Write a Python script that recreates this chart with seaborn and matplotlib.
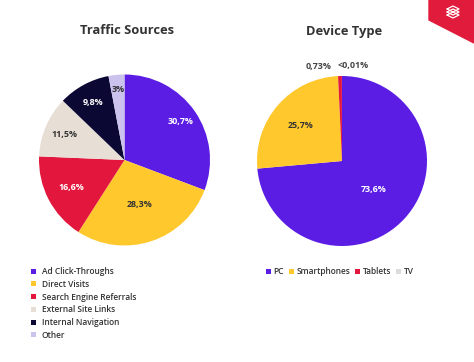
import numpy as np
import matplotlib
matplotlib.use("Agg")
import matplotlib.pyplot as plt
from matplotlib.patches import Polygon
import seaborn as sns

sns.set_theme(style="white")
plt.rcParams['font.family'] = ['Open Sans', 'DejaVu Sans']

# data
traffic_labels = ['Ad Click-Throughs', 'Direct Visits', 'Search Engine Referrals',
                  'External Site Links', 'Internal Navigation', 'Other']
traffic_values = [30.7, 28.3, 16.6, 11.5, 9.8, 3.0]
traffic_text = ['30,7%', '28,3%', '16,6%', '11,5%', '9,8%', '3%']

device_labels = ['PC', 'Smartphones', 'Tablets', 'TV']
device_values = [73.6, 25.7, 0.73, 0.01]
device_text = ['73,6%', '25,7%', '0,73%', '<0,01%']

# styling
purple, yellow, red = '#5b1de3', '#ffc82c', '#e3173d'
traffic_colors = [purple, yellow, red, '#e7dfd5', '#0b0934', '#cbc2ee']
device_colors = [purple, yellow, red, '#dcdcdc']
dark = '#333333'
traffic_txt_col = ['white', dark, 'white', dark, 'white', dark]
traffic_txt_r = [0.80, 0.55, 0.70, 0.77, 0.77, 0.83]
device_txt_col = ['white', dark]
device_txt_r = [0.50, 0.64]
lbl_size = 6.4

W, H = 474, 362
fig = plt.figure(figsize=(W / 100, H / 100), dpi=100)
fig.patch.set_facecolor('white')


def pie_axes(cx, cy, r):
    return fig.add_axes([(cx - r) / W, 1 - (cy + r) / H, 2 * r / W, 2 * r / H])


def mid_xy(w, frac):
    ang = np.deg2rad((w.theta1 + w.theta2) / 2)
    return frac * np.cos(ang), frac * np.sin(ang)


# left pie
ax1 = pie_axes(124.5, 160, 85.5)
w1, _ = ax1.pie(traffic_values, colors=traffic_colors, startangle=90,
                counterclock=False, wedgeprops=dict(linewidth=0))
for w, t, c, r in zip(w1, traffic_text, traffic_txt_col, traffic_txt_r):
    x, y = mid_xy(w, r)
    ax1.text(x, y, t, color=c, ha='center', va='center', fontsize=lbl_size, fontweight='bold')
ax1.set_xlim(-1, 1)
ax1.set_ylim(-1, 1)

# right pie
ax2 = pie_axes(342, 161, 85)
w2, _ = ax2.pie(device_values, colors=device_colors, startangle=90,
                counterclock=False, wedgeprops=dict(linewidth=0))
for w, t, c, r in zip(w2[:2], device_text[:2], device_txt_col, device_txt_r):
    x, y = mid_xy(w, r)
    ax2.text(x, y, t, color=c, ha='center', va='center', fontsize=lbl_size, fontweight='bold')
ax2.text(-0.28, 1.11, device_text[2], color='#444444', ha='center', va='center',
         fontsize=lbl_size, fontweight='bold')
ax2.text(0.13, 1.125, device_text[3], color='#444444', ha='center', va='center',
         fontsize=lbl_size, fontweight='bold')
ax2.set_xlim(-1, 1)
ax2.set_ylim(-1, 1)

# titles
fig.text(127 / W, 1 - 31 / H, 'Traffic Sources', ha='center', va='center',
         fontsize=9.3, fontweight='bold', color=dark)
fig.text(344 / W, 1 - 31 / H, 'Device Type', ha='center', va='center',
         fontsize=9.3, fontweight='bold', color=dark)

# legends
fig.legend(w1, traffic_labels, loc='upper left', bbox_to_anchor=(27 / W, 1 - 263 / H),
           frameon=False, fontsize=6.0, handlelength=0.55, handleheight=0.55,
           handletextpad=0.75, labelspacing=0.45, borderpad=0)
fig.legend(w2, device_labels, loc='upper left', bbox_to_anchor=(262 / W, 1 - 263 / H),
           frameon=False, fontsize=6.0, handlelength=0.55, handleheight=0.55, ncol=4,
           handletextpad=0.35, columnspacing=0.6, borderpad=0)
for leg in fig.legends:
    for t in leg.get_texts():
        t.set_color(dark)
        t.set_fontweight('semibold')

# corner badge
badge = Polygon([(429 / W, 1), (1, 1), (1, 1 - 43 / H), (429 / W, 1 - 20 / H)],
                closed=True, transform=fig.transFigure, color='#e11b3c', zorder=5)
fig.patches.append(badge)
for dy in (0, 3, 6):
    xs = np.array([447, 453, 459, 453, 447]) / W
    ys = 1 - (np.array([12, 9, 12, 15, 12]) + dy - 3) / H
    fig.add_artist(plt.Line2D(xs, ys, transform=fig.transFigure, color='white',
                              linewidth=0.9, zorder=6))

fig.savefig('out.png', dpi=100, facecolor='white')
